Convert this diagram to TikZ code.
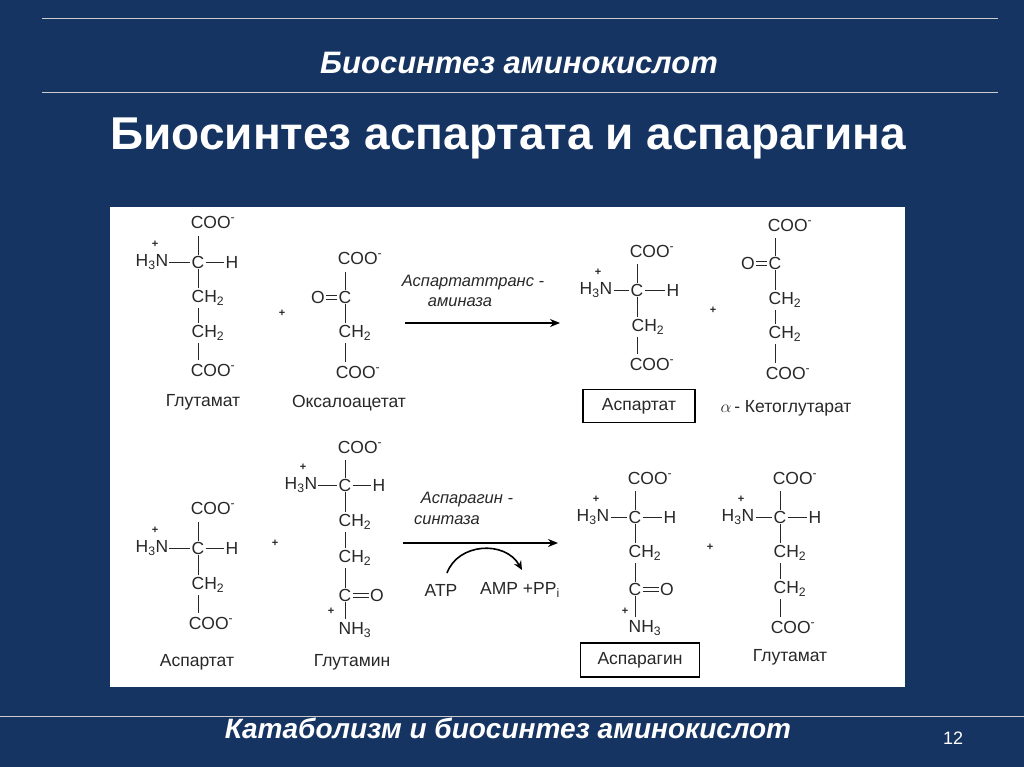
\documentclass[tikz,border=0pt]{standalone}
\usepackage{fontspec}
\setmainfont{Liberation Sans}
\usetikzlibrary{arrows.meta}
\definecolor{bg}{RGB}{22,52,98}
\definecolor{ink}{RGB}{40,40,40}
\begin{document}
\begin{tikzpicture}[x=1pt,y=-1pt,
 ch/.style={font=\fontsize{17.5}{19}\selectfont,text=ink,inner sep=1pt},
 lab/.style={font=\fontsize{17.5}{19}\selectfont,text=ink,inner sep=1pt},
 enz/.style={font=\fontsize{16.5}{18}\selectfont\itshape,text=ink,inner sep=1pt},
 pl/.style={font=\fontsize{11}{12}\selectfont\bfseries,text=ink,inner sep=0pt},
 bd/.style={draw=ink,line width=1pt},
 rx/.style={draw=black,line width=1.3pt,-{Stealth[length=10pt,width=8pt]}}]
\fill[bg] (0,0) rectangle (1024,767);
\useasboundingbox (0,0) rectangle (1024,767);
\draw[gray!40,line width=0.7pt] (42,18) -- (998,18);
\draw[gray!40,line width=0.7pt] (42,92) -- (998,92);
\draw[gray!40,line width=0.7pt] (0,716) -- (1024,716);
\node[text=white,font=\fontsize{31}{33}\selectfont\bfseries\itshape] (t1) at (519,63) {Биосинтез аминокислот};
\node[text=white,font=\fontsize{46}{50}\selectfont\bfseries] (t2) at (508,138) {Биосинтез аспартата и аспарагина};
\node[text=white,font=\fontsize{28}{30}\selectfont\bfseries\itshape] (t3) at (508,728) {Катаболизм и биосинтез аминокислот};
\node[text=white,font=\fontsize{18}{20}\selectfont] (pg) at (953,738) {12};
\fill[white] (110,207) rectangle (905,687);
% Glutamate top
\node[ch] (a1) at (213,222) {COO\textsuperscript{-}};
\node[ch] (a2) at (198,262) {C};
\node[ch] (a2l) at (152,262) {H\textsubscript{3}N};
\node[pl] at (155,244) {+};
\node[ch] (a2r) at (232,262) {H};
\node[ch] (a3) at (208,298) {CH\textsubscript{2}};
\node[ch] (a4) at (208,333) {CH\textsubscript{2}};
\node[ch] (a5) at (213,370) {COO\textsuperscript{-}};
\node[lab] (a6) at (203,402) {Глутамат};
\draw[bd] (198,236)--(a2.north) (a2.south)--(198,288) (198,308)--(198,323) (198,343)--(198,360);
\draw[bd] (a2l.east)--(a2.west) (a2.east)--(a2r.west);
\node[pl] (p1) at (282,313) {+};
% Oxaloacetate
\node[ch] (b1) at (360,258) {COO\textsuperscript{-}};
\node[ch] (b2) at (345,297) {C};
\node[ch] (b2l) at (318,297) {O};
\node[ch] (b3) at (355,333) {CH\textsubscript{2}};
\node[ch] (b4) at (358,372) {COO\textsuperscript{-}};
\node[lab] (b5) at (349,403) {Оксалоацетат};
\draw[bd] (345,272)--(b2.north) (b2.south)--(345,323) (345,343)--(345,362);
\draw[bd] ([yshift=-2]b2l.east)--([yshift=-2]b2.west) ([yshift=2]b2l.east)--([yshift=2]b2.west);
% arrow 1
\coordinate (r1s) at (405,323); \coordinate (r1e) at (560,323);
\draw[rx] (r1s)--(r1e);
\node[enz] (e1) at (473,283) {Аспартаттранс -};
\node[enz] (e2) at (460,302) {аминаза};
% Aspartate top
\node[ch] (c1) at (652,251) {COO\textsuperscript{-}};
\node[ch] (c2) at (637,290) {C};
\node[ch] (c2l) at (596,290) {H\textsubscript{3}N};
\node[pl] at (598,272) {+};
\node[ch] (c2r) at (673,290) {H};
\node[ch] (c3) at (648,327) {CH\textsubscript{2}};
\node[ch] (c4) at (652,364) {COO\textsuperscript{-}};
\draw[bd] (637,264)--(c2.north) (c2.south)--(637,317) (637,337)--(637,354);
\draw[bd] (c2l.east)--(c2.west) (c2.east)--(c2r.west);
\node[lab,draw=black,line width=1.2pt,minimum width=112pt,minimum height=33pt] (c5) at (639,406) {Аспартат};
\node[pl] (p2) at (713,310) {+};
% alpha-KG
\node[ch] (d1) at (790,225) {COO\textsuperscript{-}};
\node[ch] (d2) at (775,263) {C};
\node[ch] (d2l) at (748,263) {O};
\node[ch] (d3) at (785,300) {CH\textsubscript{2}};
\node[ch] (d4) at (785,334) {CH\textsubscript{2}};
\node[ch] (d5) at (788,373) {COO\textsuperscript{-}};
\node[lab] (d6) at (786,408) {$\alpha$\,- Кетоглутарат};
\draw[bd] (775,238)--(d2.north) (d2.south)--(775,290) (775,310)--(775,324) (775,344)--(775,363);
\draw[bd] ([yshift=-2]d2l.east)--([yshift=-2]d2.west) ([yshift=2]d2l.east)--([yshift=2]d2.west);
% Aspartate bottom
\node[ch] (f1) at (213,508) {COO\textsuperscript{-}};
\node[ch] (f2) at (198,548) {C};
\node[ch] (f2l) at (152,548) {H\textsubscript{3}N};
\node[pl] at (155,530) {+};
\node[ch] (f2r) at (232,548) {H};
\node[ch] (f3) at (208,585) {CH\textsubscript{2}};
\node[ch] (f4) at (211,623) {COO\textsuperscript{-}};
\node[lab] (f5) at (197,662) {Аспартат};
\draw[bd] (198,522)--(f2.north) (f2.south)--(198,575) (198,595)--(198,613);
\draw[bd] (f2l.east)--(f2.west) (f2.east)--(f2r.west);
\node[pl] (p3) at (275,543) {+};
% Glutamine
\node[ch] (g1) at (360,447) {COO\textsuperscript{-}};
\node[ch] (g2) at (345,485) {C};
\node[ch] (g2l) at (301,485) {H\textsubscript{3}N};
\node[pl] at (303,467) {+};
\node[ch] (g2r) at (379,485) {H};
\node[ch] (g3) at (355,522) {CH\textsubscript{2}};
\node[ch] (g4) at (355,558) {CH\textsubscript{2}};
\node[ch] (g5) at (345,595) {C};
\node[ch] (g5r) at (377,595) {O};
\node[ch] (g6) at (355,630) {NH\textsubscript{3}};
\node[pl] at (331,611) {+};
\node[lab] (g7) at (352,662) {Глутамин};
\draw[bd] (345,460)--(g2.north) (g2.south)--(345,512) (345,532)--(345,548) (345,568)--(g5.north) (g5.south)--(345,619);
\draw[bd] (g2l.east)--(g2.west) (g2.east)--(g2r.west);
\draw[bd] ([yshift=-2]g5.east)--([yshift=-2]g5r.west) ([yshift=2]g5.east)--([yshift=2]g5r.west);
% arrow 2
\coordinate (r2s) at (403,543); \coordinate (r2e) at (558,543);
\draw[rx] (r2s)--(r2e);
\node[enz] (e3) at (467,500) {Аспарагин -};
\node[enz] (e4) at (447,520) {синтаза};
\node[ch] (atp) at (441,590) {ATP};
\node[ch] (amp) at (520,590) {AMP +PP\textsubscript{i}};
\draw[draw=black,line width=1.6pt,-{Stealth[length=9pt,width=8pt]}] (447,573) .. controls (458,543) and (505,540) .. (522,570);
% Asparagine
\node[ch] (h1) at (650,478) {COO\textsuperscript{-}};
\node[ch] (h2) at (635,517) {C};
\node[ch] (h2l) at (593,517) {H\textsubscript{3}N};
\node[pl] at (596,499) {+};
\node[ch] (h2r) at (670,517) {H};
\node[ch] (h3) at (645,553) {CH\textsubscript{2}};
\node[ch] (h4) at (635,589) {C};
\node[ch] (h4r) at (667,589) {O};
\node[ch] (h5) at (645,628) {NH\textsubscript{3}};
\node[pl] at (625,611) {+};
\draw[bd] (635,491)--(h2.north) (h2.south)--(635,543) (635,563)--(h4.north) (h4.south)--(635,617);
\draw[bd] (h2l.east)--(h2.west) (h2.east)--(h2r.west);
\draw[bd] ([yshift=-2]h4.east)--([yshift=-2]h4r.west) ([yshift=2]h4.east)--([yshift=2]h4r.west);
\node[lab,draw=black,line width=1.2pt,minimum width=119pt,minimum height=34pt] (h6) at (640,660) {Аспарагин};
\node[pl] (p4) at (710,547) {+};
% Glutamate bottom
\node[ch] (k1) at (795,478) {COO\textsuperscript{-}};
\node[ch] (k2) at (780,517) {C};
\node[ch] (k2l) at (738,517) {H\textsubscript{3}N};
\node[pl] at (741,499) {+};
\node[ch] (k2r) at (815,517) {H};
\node[ch] (k3) at (790,553) {CH\textsubscript{2}};
\node[ch] (k4) at (790,589) {CH\textsubscript{2}};
\node[ch] (k5) at (793,627) {COO\textsuperscript{-}};
\node[lab] (k6) at (790,657) {Глутамат};
\draw[bd] (780,491)--(k2.north) (k2.south)--(780,543) (780,563)--(780,579) (780,599)--(780,617);
\draw[bd] (k2l.east)--(k2.west) (k2.east)--(k2r.west);
\end{tikzpicture}
\end{document}
